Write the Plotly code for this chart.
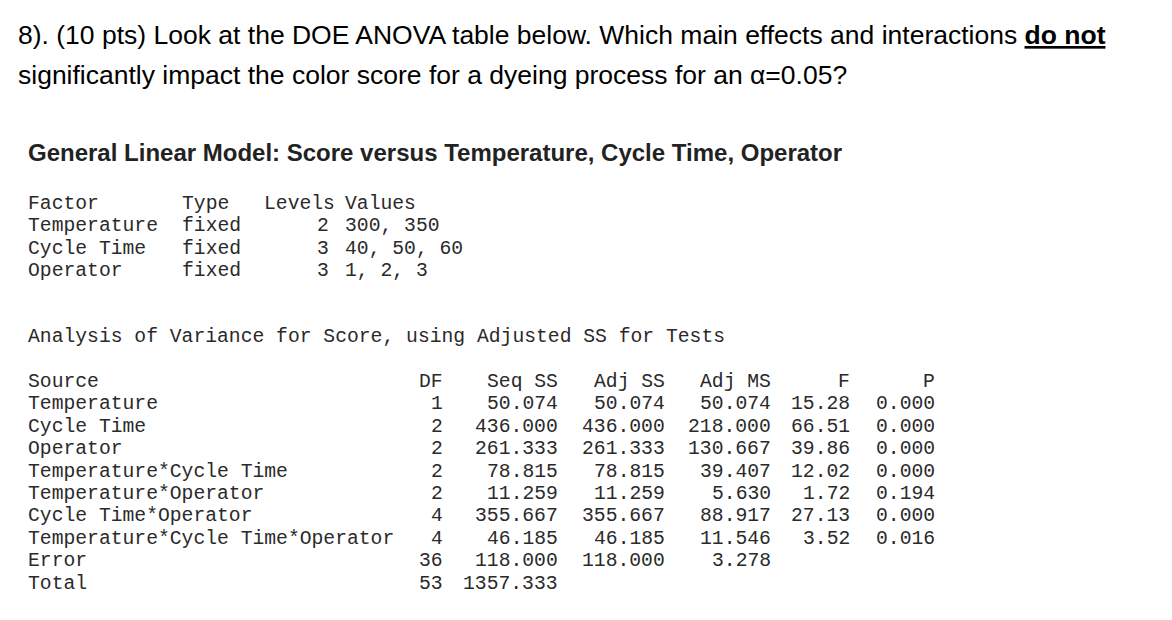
import plotly.graph_objects as go

question = ["8). (10 pts) Look at the DOE ANOVA table below. Which main effects and interactions <b><u>do not</u></b>",
            "significantly impact the color score for a dyeing process for an α=0.05?"]
title = "General Linear Model: Score versus Temperature, Cycle Time, Operator"

factor_cols = ["Factor", "Type", "Levels", "Values"]
factors = ["Temperature", "Cycle Time", "Operator"]
types = ["fixed", "fixed", "fixed"]
levels = ["2", "3", "3"]
values = ["300, 350", "40, 50, 60", "1, 2, 3"]

anova_title = "Analysis of Variance for Score, using Adjusted SS for Tests"
anova_cols = ["Source", "DF", "Seq SS", "Adj SS", "Adj MS", "F", "P"]
sources = ["Temperature", "Cycle Time", "Operator", "Temperature*Cycle Time",
           "Temperature*Operator", "Cycle Time*Operator",
           "Temperature*Cycle Time*Operator", "Error", "Total"]
df = ["1", "2", "2", "2", "2", "4", "4", "36", "53"]
seq_ss = ["50.074", "436.000", "261.333", "78.815", "11.259", "355.667", "46.185", "118.000", "1357.333"]
adj_ss = ["50.074", "436.000", "261.333", "78.815", "11.259", "355.667", "46.185", "118.000", ""]
adj_ms = ["50.074", "218.000", "130.667", "39.407", "5.630", "88.917", "11.546", "3.278", ""]
f_val = ["15.28", "66.51", "39.86", "12.02", "1.72", "27.13", "3.52", "", ""]
p_val = ["0.000", "0.000", "0.000", "0.000", "0.194", "0.000", "0.016", "", ""]

mono = dict(family="Liberation Mono, Courier New, monospace", size=19.7, color="#2a2a2a")
ann = []
DX, DY = -10, -8  # shift observed in the render

def txt(x, y, s, font, anchor="left"):
    ann.append(dict(x=x + DX, y=y + DY, text=s, showarrow=False, xref="x", yref="y",
                    xanchor=anchor, yanchor="middle", font=font))

qfont = dict(family="Liberation Sans, Arial", size=26.5, color="black")
txt(18, 35, question[0], qfont)
txt(18, 75, question[1], qfont)
txt(28, 152, "<b>" + title + "</b>", dict(family="Liberation Sans, Arial", size=24, color="#222"))

# factor table
fy0, fdy = 204, 22.4
txt(28, fy0, factor_cols[0], mono)
txt(182, fy0, factor_cols[1], mono)
txt(264, fy0, factor_cols[2], mono)
txt(345, fy0, factor_cols[3], mono)
for i in range(len(factors)):
    y = fy0 + fdy * (i + 1)
    txt(28, y, factors[i], mono)
    txt(182, y, types[i], mono)
    txt(333, y, levels[i], mono, "right")
    txt(345, y, values[i], mono)

txt(28, 337, anova_title, mono)

# anova table
ay0, ady = 382, 22.4
rights = [447, 562, 669, 775, 854, 939]
cols = [df, seq_ss, adj_ss, adj_ms, f_val, p_val]
txt(28, ay0, anova_cols[0], mono)
for j, r in enumerate(rights):
    txt(r, ay0, anova_cols[j + 1], mono, "right")
for i, s in enumerate(sources):
    y = ay0 + ady * (i + 1)
    txt(28, y, s, mono)
    for j, r in enumerate(rights):
        if cols[j][i]:
            txt(r, y, cols[j][i], mono, "right")

fig = go.Figure()
fig.update_layout(width=1172, height=620, margin=dict(l=0, r=0, t=0, b=0),
                  paper_bgcolor="white", plot_bgcolor="white", annotations=ann,
                  xaxis=dict(range=[0, 1172], visible=False, fixedrange=True),
                  yaxis=dict(range=[620, 0], visible=False, fixedrange=True))
fig.write_html("out.html")
